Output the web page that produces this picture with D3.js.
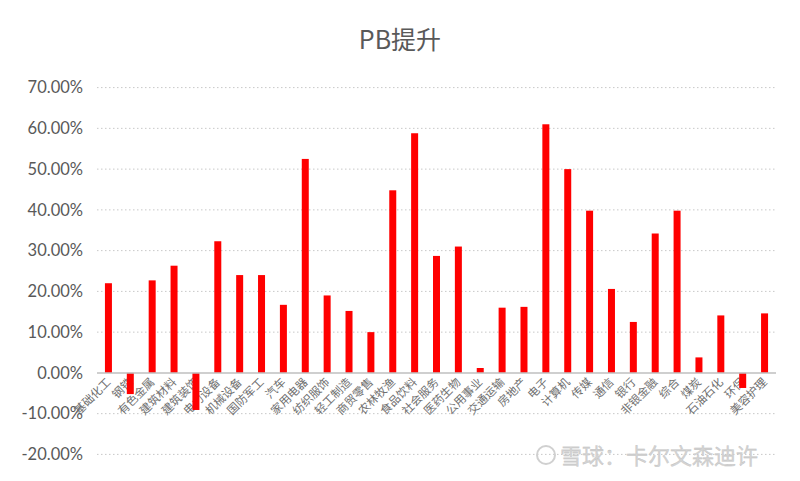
<!DOCTYPE html>
<html><head><meta charset="utf-8">
<script src="https://cdn.jsdelivr.net/npm/d3@7"></script>
<style>body{margin:0;background:#fff;} svg{display:block;font-family:"Noto Sans CJK SC","Noto Sans",sans-serif;}</style>
</head><body>
<svg id="c" width="800" height="481"></svg>
<script>
const categories = ["基础化工","钢铁","有色金属","建筑材料","建筑装饰","电力设备","机械设备","国防军工","汽车","家用电器","纺织服饰","轻工制造","商贸零售","农林牧渔","食品饮料","社会服务","医药生物","公用事业","交通运输","房地产","电子","计算机","传媒","通信","银行","非银金融","综合","煤炭","石油石化","环保","美容护理"];
const values = [22.0,-5.2,22.7,26.3,-9.1,32.3,24.0,24.0,16.7,52.5,19.0,15.2,10.0,44.8,58.8,28.7,31.0,1.2,16.0,16.2,61.0,50.0,39.8,20.6,12.5,34.2,39.8,3.8,14.1,-3.7,14.6];
const yTicks = [-20,-10,0,10,20,30,40,50,60,70];
const title = "PB提升";
const watermark = "雪球：卡尔文森迪许";

const svg = d3.select("#c");
const x = d3.scaleBand().domain(categories).range([97.5, 775.5]).paddingInner(0.68).paddingOuter(0.34);
const y = d3.scaleLinear().domain([-20, 70]).range([454.4, 87.6]);

svg.append("text").attr("x", 400).attr("y", 49).attr("text-anchor","middle")
  .attr("font-size", 25).attr("fill", "#595959").text(title);

// gridlines
svg.append("g").selectAll("line").data(yTicks.filter(d=>d!==0)).join("line")
  .attr("x1", 97).attr("x2", 776).attr("y1", d=>y(d)).attr("y2", d=>y(d))
  .attr("stroke", "#c8c8c8").attr("stroke-width", 1).attr("stroke-dasharray","1.5,2.5");

// y axis labels
const ya = svg.append("g").attr("transform","translate(83,0)")
  .call(d3.axisLeft(y).tickValues(yTicks).tickSize(0).tickPadding(0).tickFormat(d=>d.toFixed(2)+"%"));
ya.select(".domain").remove();
ya.selectAll("text").attr("font-size", 16.5).attr("fill","#595959").attr("font-family","Lato,'Noto Sans',sans-serif");

// x labels (under bars)
svg.append("g").selectAll("text").data(categories).join("text")
  .attr("transform",(d)=>`translate(${x(d)+x.bandwidth()/2+3},${y(0)+10}) rotate(-45)`)
  .attr("text-anchor","end").attr("font-size",11.5).attr("fill","#6f6f6f").text(d=>d);

// bars
svg.append("g").selectAll("rect").data(values).join("rect")
  .attr("x", (d,i)=>x(categories[i]))
  .attr("width", x.bandwidth())
  .attr("y", d=>y(Math.max(0,d)))
  .attr("height", d=>Math.abs(y(d)-y(0)))
  .attr("fill", "#ff0000");

// zero line
svg.append("line").attr("x1",97).attr("x2",776).attr("y1",y(0)).attr("y2",y(0))
  .attr("stroke","#bfbfbf").attr("stroke-width",1.5);

// watermark
svg.append("circle").attr("cx",546).attr("cy",455).attr("r",9).attr("fill","none").attr("stroke","#d0d0d0").attr("stroke-width",2);
svg.append("text").attr("x",560).attr("y",464).attr("font-size",22).attr("fill","#d4d4d4")
  .attr("stroke","#bbbbbb").attr("stroke-width",0.3).text(watermark);
</script>
</body></html>
